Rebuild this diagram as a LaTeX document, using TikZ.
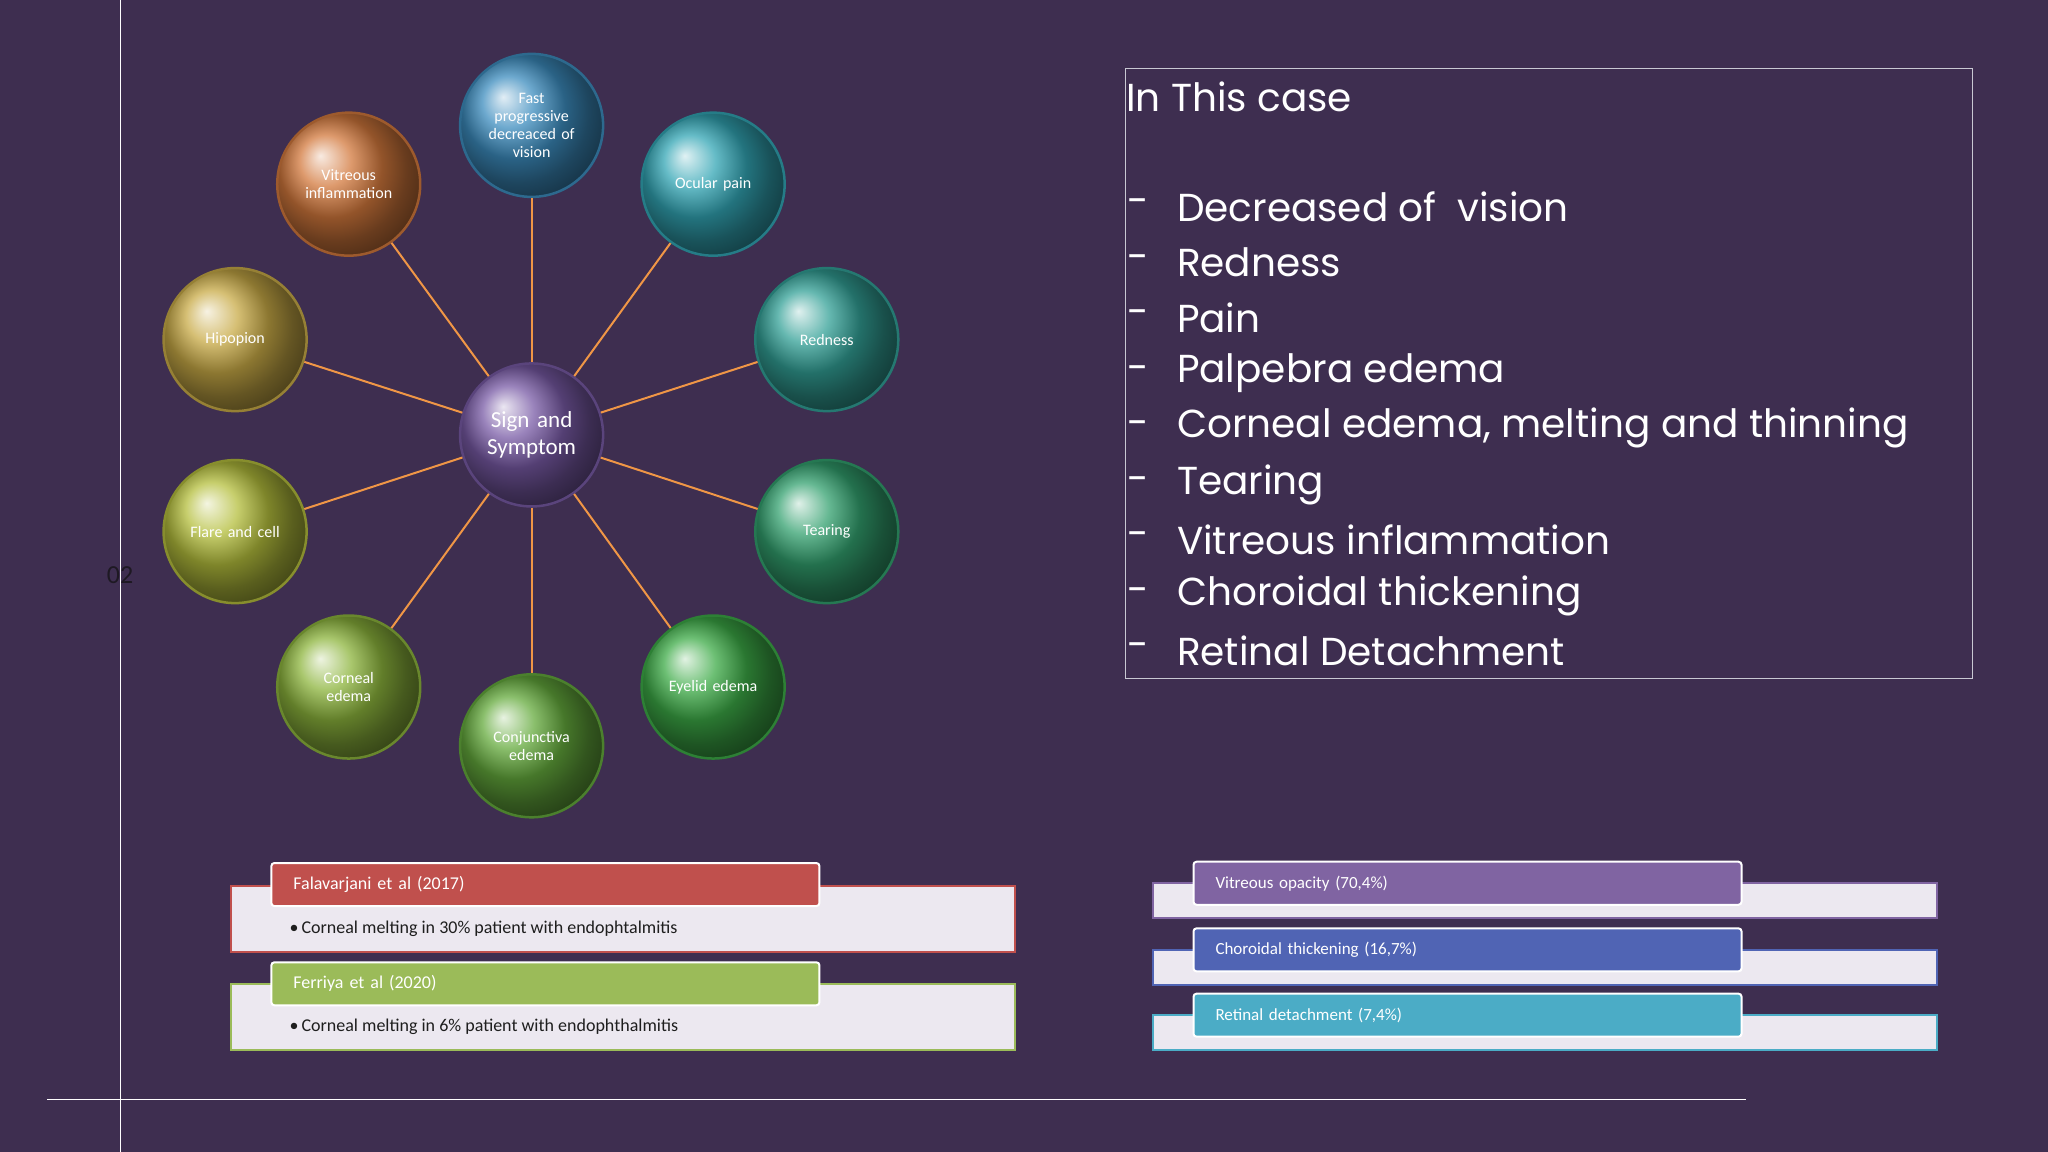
\documentclass[tikz,border=0pt]{standalone}
\usepackage{fontspec}
\setmainfont{Carlito}
\newfontfamily\pop{Poppins}
\begin{document}
\begin{tikzpicture}[x=1.306pt,y=-1.306pt,
 bub/.style={circle,minimum size=143pt,inner sep=2pt,align=center,text=white,font=\fontsize{16}{18}\selectfont,line width=2.5pt,text width=110pt},
 spoke/.style={draw={rgb,255:red,240;green,150;blue,70},line width=2pt},
 hdr/.style={rounded corners=3pt,draw=white,line width=2pt,text=white,anchor=north west,minimum width=548pt,minimum height=43pt,inner xsep=22pt,align=left,text width=504pt,font=\fontsize{18}{20}\selectfont},
 outer/.style={fill={rgb,255:red,236;green,232;blue,240},line width=2pt},
 li/.style={anchor=west,font=\pop\fontsize{39}{42}\selectfont,text=white,inner sep=0pt}]
\definecolor{bg}{RGB}{62,46,80}
\fill[bg] (0,0) rectangle (1568,882);
\useasboundingbox (0,0) rectangle (1568,882);
\draw[white,line width=1.2pt] (92,0) -- (92,882);
\draw[white,line width=1.2pt] (36,842) -- (1337,842);
\node[text={rgb,255:red,30;green,25;blue,35},font=\fontsize{26}{28}\selectfont] (num) at (92,440) {02};
% circles
\def\bubble#1#2#3#4#5#6#7{\definecolor{c#1}{RGB}{#5}\node[bub,fill=c#1,draw=c#1!75!black,shading=ball,ball color=c#1] (#1) at (#2,#3) {#4};}
\definecolor{cc}{RGB}{120,90,165}
\node[bub,ball color=cc,draw=cc!75!black,font=\fontsize{23}{27}\selectfont] (c) at (407,333) {Sign and\\Symptom};
\foreach \n/\x/\y/\t/\r/\g/\b in {a/407/96/{Fast\\progressive\\decreaced of\\vision}/60/140/190,
 b/546/141/Ocular pain/50/165/180, d/633/260/Redness/50/160/150, e/633/407/Tearing/50/160/110,
 f/546/526/Eyelid edema/60/170/70, g/407/571/{Conjunctiva\\edema}/100/170/60, h/267/526/{Corneal\\edema}/140/180/60,
 i/180/407/Flare and cell/180/190/60, j/180/260/Hipopion/200/170/70, k/267/141/{Vitreous\\inflammation}/210/120/60}{
 \definecolor{col}{RGB}{\r,\g,\b}
 \node[bub,ball color=col,draw=col!75!black] (\n) at (\x,\y) {\t};
 \draw[spoke] (c) -- (\n);
}
% right box
\node[draw={rgb,255:red,200;green,200;blue,210},line width=1pt,minimum width=847pt,minimum height=610pt,anchor=north west,inner sep=0pt] (box) at (861,52) {};
\node[li] (t0) at (862,74) {In This case};
\foreach \y/\t [count=\k] in {158/Decreased of\ \ vision,201/Redness,243/Pain,286/Palpebra edema,328/{Corneal edema, melting and thinning},371/Tearing,413/Vitreous inflammation,456/Choroidal thickening,498/Retinal Detachment}{
 \node[li] (d\k) at (863,\y) {-};
 \node[li] (l\k) at (901,\y) {\t};
}
% bottom left
\definecolor{rd}{RGB}{192,80,77}\definecolor{gr}{RGB}{155,187,89}
\draw[outer,draw=rd] (177,678) rectangle (777,729);
\node[hdr,fill=rd] (h1) at (207,660) {Falavarjani et al (2017)};
\node[anchor=west,font=\fontsize{18}{20}\selectfont,text={rgb,255:red,30;green,30;blue,30}] (b1) at (219,711) {\textbullet\,Corneal melting in 30\% patient with endophtalmitis};
\draw[outer,draw=gr] (177,753) rectangle (777,804);
\node[hdr,fill=gr] (h2) at (207,736) {Ferriya et al (2020)};
\node[anchor=west,font=\fontsize{18}{20}\selectfont,text={rgb,255:red,30;green,30;blue,30}] (b2) at (219,786) {\textbullet\,Corneal melting in 6\% patient with endophthalmitis};
% bottom right
\definecolor{pu}{RGB}{128,100,162}\definecolor{bl}{RGB}{80,100,180}\definecolor{cy}{RGB}{75,172,198}
\draw[outer,draw=pu] (883,676) rectangle (1483,703);
\node[hdr,fill=pu,font=\fontsize{17}{19}\selectfont] (r1) at (913,659) {Vitreous opacity (70,4\%)};
\draw[outer,draw=bl] (883,727) rectangle (1483,754);
\node[hdr,fill=bl,font=\fontsize{17}{19}\selectfont] (r2) at (913,710) {Choroidal thickening (16,7\%)};
\draw[outer,draw=cy] (883,777) rectangle (1483,804);
\node[hdr,fill=cy,font=\fontsize{17}{19}\selectfont] (r3) at (913,760) {Retinal detachment (7,4\%)};
\end{tikzpicture}
\end{document}
